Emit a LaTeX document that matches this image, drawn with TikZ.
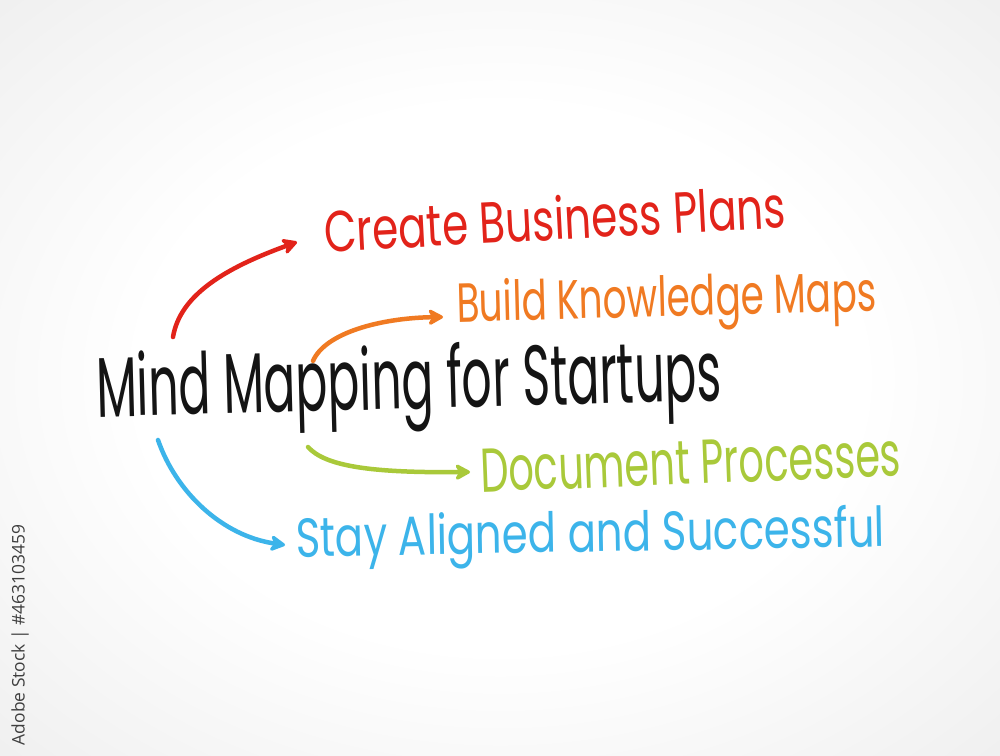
\documentclass[tikz,border=0pt]{standalone}
\usepackage{fontspec}
\setmainfont{Poppins}
\newfontfamily\wmfont{Open Sans}
\usetikzlibrary{arrows.meta}
\definecolor{cred}{HTML}{E2231A}
\definecolor{corange}{HTML}{F07A22}
\definecolor{cgreen}{HTML}{A9C93A}
\definecolor{cblue}{HTML}{3CB4EA}
\definecolor{cink}{HTML}{141414}
\definecolor{cwm}{HTML}{3E3E3E}
\pgfdeclareradialshading{bgshade}{\pgfpoint{0bp}{0bp}}{color(0bp)=(white); color(18bp)=(white); color(50bp)=(black!11); color(75bp)=(black!13)}
\tikzset{
  label/.style={inner sep=0pt, outer sep=0pt, anchor=base west},
  branch/.style={line width=3.2pt, line cap=round, -{Stealth[length=13pt, width=14pt, inset=4pt, round]}},
}
\begin{document}
\begin{tikzpicture}[x=0.025cm, y=-0.025cm]
\useasboundingbox (0,0) rectangle (1000,756);
\shade[shading=bgshade] (0,0) rectangle (1000,756);

% watermark id text
\node[inner sep=0pt, rotate=90, text=cwm] (wm) at (20,635) {\resizebox{5.5cm}{!}{\wmfont Adobe Stock | \#463103459}};

% main topic
\node[label, text=cink, rotate=1.5] (main) at (97,417) {\resizebox{15.625cm}{1.62cm}{Mind Mapping for Startups}};

% branches
\node[label, text=cred, rotate=3] (plans) at (325,252) {\resizebox{11.55cm}{1.1cm}{Create Business Plans}};
\node[label, text=corange, rotate=1.5] (maps) at (457,322) {\resizebox{10.5cm}{1.05cm}{Build Knowledge Maps}};
\node[label, text=cgreen, rotate=2.2] (docs) at (481,492) {\resizebox{10.525cm}{1.08cm}{Document Processes}};
\node[label, text=cblue, rotate=1] (stay) at (296,557) {\resizebox{14.725cm}{1.05cm}{Stay Aligned and Successful}};

% connector ends
\coordinate (r0) at (173,337); \coordinate (r1) at (297,242);
\coordinate (o0) at (313,361); \coordinate (o1) at (443,317);
\coordinate (g0) at (308,447); \coordinate (g1) at (470,472);
\coordinate (b0) at (158,440); \coordinate (b1) at (285,545);

\draw[branch, cred] (r0) .. controls (180,295) and (225,268) .. (r1);
\draw[branch, corange] (o0) .. controls (325,333) and (380,318) .. (o1);
\draw[branch, cgreen] (g0) .. controls (325,466) and (370,473) .. (g1);
\draw[branch, cblue] (b0) .. controls (176,492) and (222,536) .. (b1);
\end{tikzpicture}
\end{document}
